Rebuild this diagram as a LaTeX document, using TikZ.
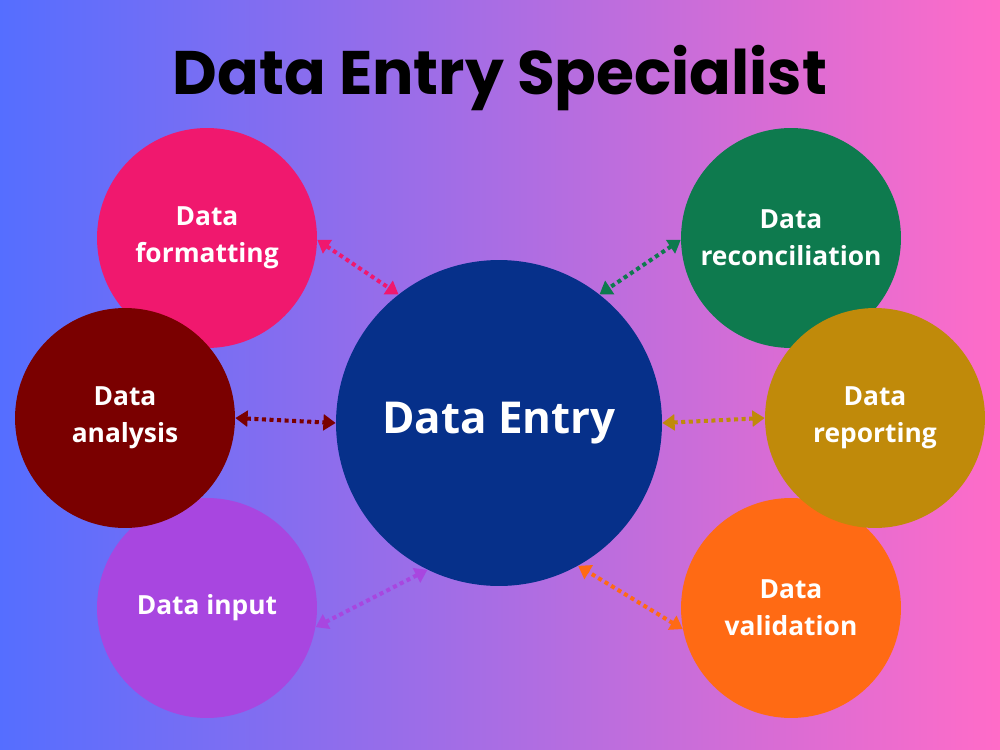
\documentclass[tikz,border=0pt]{standalone}
\usepackage{fontspec}
\setmainfont{Open Sans}
\newfontfamily\titlefont{Poppins}
\usetikzlibrary{arrows.meta,shapes.geometric}
\definecolor{bgL}{RGB}{85,110,255}
\definecolor{bgR}{RGB}{255,108,200}
\definecolor{cForm}{RGB}{240,24,110}
\definecolor{cAna}{RGB}{122,0,0}
\definecolor{cInp}{RGB}{168,70,224}
\definecolor{cRec}{RGB}{14,122,78}
\definecolor{cRep}{RGB}{192,138,10}
\definecolor{cVal}{RGB}{255,106,20}
\definecolor{cCen}{RGB}{6,48,138}
\tikzset{
  sat/.style={circle,minimum size=4.4cm,inner sep=0pt,align=center,text=white,font=\bfseries\fontsize{15}{21}\selectfont},
  link/.style={line width=2.3pt,dotted,{Triangle[length=7pt,width=9pt]}-{Triangle[length=7pt,width=9pt]}}
}
\begin{document}
\begin{tikzpicture}[x=0.02cm,y=-0.02cm]
\shade[left color=bgL,right color=bgR] (0,0) rectangle (1000,750);
\useasboundingbox (0,0) rectangle (1000,750);
\node (title) at (500,78) {\titlefont\bfseries\fontsize{35}{40}\selectfont Data Entry Specialist};
\node[sat,fill=cForm] (f) at (207,238) {Data\\formatting};
\node[sat,fill=cInp] (i) at (207,608) {Data input};
\node[sat,fill=cAna] (a) at (125,418) {Data\\analysis};
\node[sat,fill=cRec] (r) at (791,238) {Data\\reconciliation};
\node[sat,fill=cVal] (v) at (791,608) {Data\\validation};
\node[sat,fill=cRep] (p) at (875,418) {Data\\reporting};
\node[circle,fill=cCen,minimum size=6.52cm,inner sep=0pt,text=white,font=\bfseries\fontsize{25}{30}\selectfont] (c) at (499,423) {Data Entry};
\draw[link,cForm] (f.-1) -- (c.128);
\draw[link,cAna] (a.0) -- (c.180);
\draw[link,cInp] (i.-10) -- (c.244);
\draw[link,cRec] (r.181) -- (c.52);
\draw[link,cRep] (p.180) -- (c.0);
\draw[link,cVal] (v.191) -- (c.-61);
\end{tikzpicture}
\end{document}
